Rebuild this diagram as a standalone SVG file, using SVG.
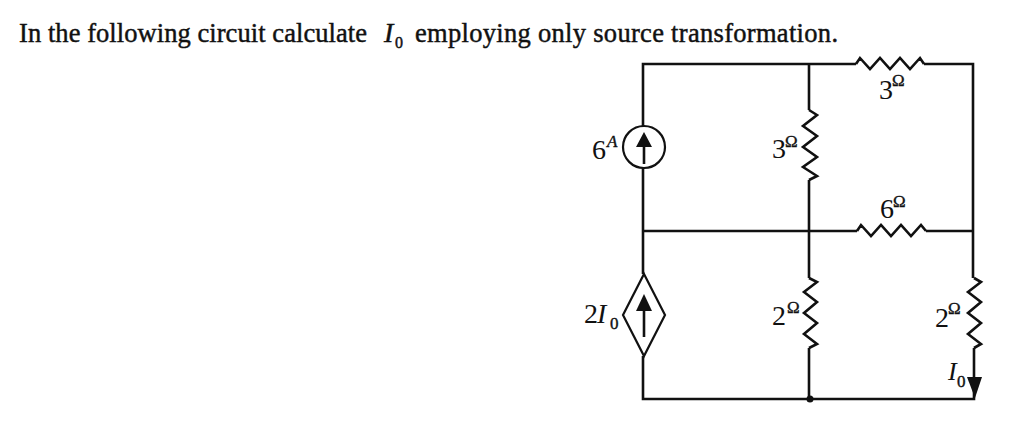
<svg xmlns="http://www.w3.org/2000/svg" width="1024" height="421" viewBox="0 0 1024 421">
<style>
text{font-family:"Liberation Serif","Times New Roman",serif;fill:#111}
.t{font-size:26.5px;stroke:#111;stroke-width:.45px}
.l{font-size:28px}
.s{font-size:17px;stroke:#111;stroke-width:.4px}
.i{font-style:italic}
.w{fill:none;stroke:#111;stroke-width:2.6;stroke-linejoin:miter}
.sym{fill:#fff;stroke:#111;stroke-width:2.2}
.a{fill:#111;stroke:none}
.st{stroke:#111;stroke-width:2.6;fill:none}
</style>
<rect width="1024" height="421" fill="#fff"/>
<g id="title">
<text class="t" x="19" y="42" textLength="348">In the following circuit calculate</text>
<text class="t i" x="384" y="42" style="font-size:28px">I</text>
<text class="t" x="395" y="48" style="font-size:16px">0</text>
<text class="t" x="415" y="42" textLength="423">employing only source transformation.</text>
</g>
<g id="connectors">
<path class="w" d="M643 126V64H856M924 64H973V278M974 348V399H643V356M643 274V168M809 64V110M809 180V278M809 348V399M643 231H857M926 231H973"/>
</g>
<g id="R_top"><path class="w" d="M856 64L860 58L870 69L880 58L890 69L900 58L910 69L920 58L924 64"/><text class="l" x="879" y="99">3</text><text class="s" x="892" y="86">Ω</text></g>
<g id="R_mid_up"><path class="w" d="M809 110L817 115L803 126L817 136L803 147L817 157L803 167L817 176L809 180"/><text class="l" x="772" y="158">3</text><text class="s" x="785" y="147">Ω</text></g>
<g id="R_six"><path class="w" d="M857 231L861 225L871 236L881 225L891 236L901 225L911 236L921 225L926 231"/><text class="l" x="880" y="218">6</text><text class="s" x="893" y="207">Ω</text></g>
<g id="R_mid_low"><path class="w" d="M809 278L817 282L804 292L817 302L804 313L817 323L804 334L817 344L809 348"/><text class="l" x="772" y="325">2</text><text class="s" x="787" y="313">Ω</text></g>
<g id="R_right"><path class="w" d="M974 278L981 282L968 292L981 302L968 313L981 323L968 334L981 344L974 348"/><text class="l" x="935" y="327">2</text><text class="s" x="948" y="314">Ω</text></g>
<g id="source_6A"><circle class="sym" cx="644" cy="147" r="21"/><path class="st" d="M644 146V164"/><path class="a" d="M644 132L636 147H652Z"/><text class="l" x="592" y="159">6</text><text class="s i" x="607" y="147">A</text></g>
<g id="source_dep"><path class="sym" d="M644 274L665 315L644 356L623 315Z"/><path class="st" d="M644 308V337"/><path class="a" d="M644 294L636 311H652Z"/><text class="l" x="584" y="323">2</text><text class="l i" x="597" y="323">I</text><text class="s" x="610" y="329">0</text></g>
<g id="I0_arrow"><path class="a" d="M967 377H982L975 398Z"/><text class="l i" x="948" y="380" style="font-size:26px">I</text><text class="s" x="957" y="387">0</text></g>
<g id="junction"><circle class="a" cx="810" cy="399" r="3.5"/></g>
</svg>
